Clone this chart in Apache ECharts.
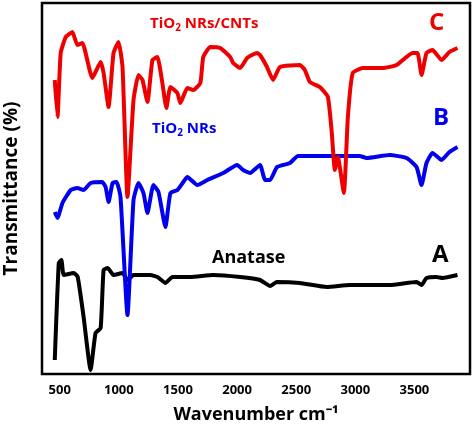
<!DOCTYPE html><html><head><meta charset="utf-8"><script src="https://cdn.jsdelivr.net/npm/echarts@6/dist/echarts.min.js"></script>
<style>html,body{margin:0;padding:0;background:#fff}#c{width:474px;height:433px}</style></head><body><div id="c"></div><script>
const xTicks=[500,1000,1500,2000,2500,3000,3500];
const cX=[458,481,508,551,607,649,691,776,846,871,913,955,997,1031,1073,1124,1166,1200,1242,1284,1326,1368,1402,1436,1495,1520,1579,1630,1689,1714,1773,1857,1942,1967,2026,2085,2169,2194,2253,2304,2363,2531,2573,2616,2700,2768,2801,2827,2852,2903,2937,2978,3063,3231,3349,3484,3526,3560,3602,3653,3729,3796,3864];
const cY=[353,316,380,396,401,388,390,355,371,360,326,380,391,366,236,333,358,353,331,373,376,350,325,346,340,330,345,343,350,376,386,385,376,370,365,375,380,378,366,353,366,368,363,351,346,336,300,263,276,240,316,360,365,365,368,380,380,358,380,383,373,381,385];
const bX=[458,481,523,593,649,702,761,860,888,913,947,981,1014,1073,1124,1166,1208,1242,1292,1335,1394,1436,1495,1545,1579,1663,1748,1883,2001,2051,2110,2194,2237,2279,2338,2447,2515,3037,3096,3290,3434,3518,3560,3602,3653,3729,3796,3864];
const bY=[221,215,230,243,245,243,250,251,246,231,250,251,236,118,233,250,240,220,248,241,206,240,243,251,256,248,253,260,268,263,260,268,253,253,266,270,277,277,275,278,275,266,248,270,280,273,281,286];
const aX=[458,492,514,534,618,652,702,761,803,846,871,905,955,1031,1073,1124,1267,1326,1394,1453,1604,1798,2026,2194,2279,2338,2531,2759,2953,3290,3518,3560,3602,3687,3737,3864];
const aY=[73,170,173,158,160,156,116,63,100,105,163,165,158,160,153,158,158,156,150,156,156,158,156,153,147,151,150,146,148,148,151,148,155,156,155,158];
const zip=(x,y)=>x.map((v,i)=>[v,y[i]]);
const ch=echarts.init(document.getElementById('c'));
const ser=(d,c)=>({type:'line',data:d,showSymbol:false,smooth:0.15,lineStyle:{color:c,width:4},silent:true});
const F='"Open Sans",Arial,sans-serif';
ch.setOption({animation:false,
grid:{left:42,right:4,top:3,bottom:59,outerBoundsMode:'none',containLabel:false,show:true,borderColor:'#000',borderWidth:2.5,backgroundColor:'#fff'},
xAxis:{type:'value',min:350,max:3970,interval:50,axisLine:{show:false},axisTick:{show:false},splitLine:{show:false},
 axisLabel:{formatter:v=>xTicks.includes(v)?String(v):'',color:'#000',fontWeight:'bold',fontSize:13,fontFamily:F,margin:10,showMinLabel:true,showMaxLabel:false},
 name:'Wavenumber cm⁻¹',nameLocation:'middle',nameGap:32,nameTextStyle:{color:'#000',fontWeight:'bold',fontSize:18,fontFamily:F}},
yAxis:{type:'value',min:59,max:430,axisLabel:{show:false},axisTick:{show:false},splitLine:{show:false},axisLine:{show:false},
 name:'Transmittance (%)',nameLocation:'middle',nameGap:21,nameTextStyle:{color:'#000',fontWeight:'bold',fontSize:19,fontFamily:F}},
series:[ser(zip(aX,aY),'#000'),ser(zip(bX,bY),'#0000ee'),ser(zip(cX,cY),'#ee0000')],
graphic:[
 {type:'text',left:150,top:16,style:{text:'{a|TiO}{s|2}{a| NRs/CNTs}',rich:{a:{fill:'#e00',fontWeight:'bold',fontSize:15,fontFamily:F},s:{fill:'#e00',fontWeight:'bold',fontSize:10,fontFamily:F,padding:[10,0,0,0]}}}},
 {type:'text',left:429,top:11,style:{text:'C',fill:'#e00',fontWeight:'bold',fontSize:24,fontFamily:F}},
 {type:'text',left:152,top:121,style:{text:'{a|TiO}{s|2}{a| NRs}',rich:{a:{fill:'#00e',fontWeight:'bold',fontSize:15,fontFamily:F},s:{fill:'#00e',fontWeight:'bold',fontSize:10,fontFamily:F,padding:[10,0,0,0]}}}},
 {type:'text',left:433,top:106,style:{text:'B',fill:'#00e',fontWeight:'bold',fontSize:24,fontFamily:F}},
 {type:'text',left:212,top:249,style:{text:'Anatase',fill:'#000',fontWeight:'bold',fontSize:18,fontFamily:F}},
 {type:'text',left:432,top:243,style:{text:'A',fill:'#000',fontWeight:'bold',fontSize:24,fontFamily:F}}
]});
</script></body></html>
